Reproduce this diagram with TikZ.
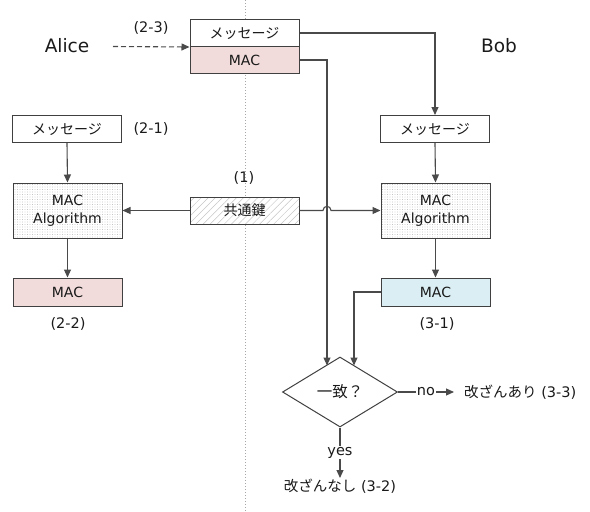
\documentclass[tikz,border=0pt]{standalone}
\usepackage{fontspec}
\setmainfont{DejaVu Sans}
\newfontfamily\jp{Noto Sans CJK JP}
\usetikzlibrary{arrows.meta,shapes.geometric,patterns.meta}
\definecolor{pinkf}{HTML}{F2DCDB}
\definecolor{bluef}{HTML}{DAEEF3}
\definecolor{edgec}{HTML}{404040}
\definecolor{wirec}{HTML}{4A4A4A}
\definecolor{txt}{HTML}{1A1A1A}
\begin{document}
\begin{tikzpicture}[x=1pt,y=-1pt,
  >={Triangle[length=8pt,width=7pt]},
  boxbase/.style={draw=edgec,line width=1pt,minimum width=109pt,minimum height=27pt,inner sep=0pt,
    font=\fontsize{14}{18}\selectfont,text=txt,align=center},
  box/.style={boxbase,fill=white},
  algbox/.style={boxbase,minimum height=55pt,preaction={fill=white},
    pattern={Dots[distance=2.5pt,radius=0.35pt]},pattern color=gray!70},
  keybox/.style={boxbase,preaction={fill=white},
    pattern={Lines[angle=45,distance=5pt,line width=0.5pt]},pattern color=gray!45},
  lbl/.style={font=\fontsize{14.5}{16}\selectfont,text=txt,inner sep=1pt},
  big/.style={font=\fontsize{18.5}{20}\selectfont,text=txt},
  wire/.style={draw=wirec,line width=1.1pt},
  dotline/.style={draw=gray!70,line width=0.8pt,dash pattern=on 1pt off 2pt}]
\useasboundingbox (0,0) rectangle (590,512);
\draw[dotline] (245,0) -- (245,512);

\node[big] (alice) at (67,46) {Alice};
\node[big] (bob) at (499,46) {Bob};

\node[box] (msgT) at (244.5,33) {\jp メッセージ};
\node[box,fill=pinkf] (macT) at (244.5,60) {MAC};
\node[lbl] (l23) at (151,28) {(2-3)};
\coordinate (dstart) at (113,46.5);
\draw[wire,dash pattern=on 5pt off 3pt,->] (dstart) -- (msgT.south west);

\node[box] (msgL) at (67,129) {\jp メッセージ};
\node[lbl] (l21) at (151,129) {(2-1)};
\node[algbox] (algL) at (67.5,210.5) {MAC\\Algorithm};
\node[box,fill=pinkf,minimum height=28pt] (macL) at (67.5,292) {MAC};
\node[lbl] (l22) at (68,324) {(2-2)};

\node[keybox] (key) at (244.5,210.5) {\jp 共通鍵};
\node[lbl] (l1) at (244,178) {(1)};

\node[box] (msgR) at (435,129) {\jp メッセージ};
\node[algbox] (algR) at (435.5,210.5) {MAC\\Algorithm};
\node[box,fill=bluef,minimum height=28pt] (macR) at (435.5,292) {MAC};
\node[lbl] (l31) at (437,324) {(3-1)};

\node[diamond,draw=edgec,line width=1pt,fill=white,minimum width=115pt,minimum height=70pt,aspect=1.64,inner sep=0pt,
  font=\fontsize{15.5}{17}\selectfont,text=txt] (dec) at (340,392) {\jp 一致？};

\node[lbl,anchor=west,inner xsep=10pt] (noT) at (454,392) {{\jp 改ざんあり} (3-3)};
\node[lbl,anchor=north] (yesT) at (340,478) {{\jp 改ざんなし} (3-2)};

% connectors
\draw[wire,->] (msgT.east) -| (msgR.north);
\coordinate (in1) at (327,365.5);
\coordinate (in2) at (354,365.5);
\draw[wire,->] (macT.east) -| (in1);
\draw[wire,->] (macR.west) -| (in2);
\draw[wire,->] (msgL.south) -- (algL.north);
\draw[wire,->] (algL.south) -- (macL.north);
\draw[wire,->] (msgR.south) -- (algR.north);
\draw[wire,->] (algR.south) -- (macR.north);
\draw[wire,->] (key.west) -- (algL.east);
\coordinate (hop) at (327,210.5);
\draw[wire,->] (key.east) -- ([xshift=-4pt]hop) .. controls +(0,-5.5) and +(0,-5.5) .. ([xshift=4pt]hop) -- (algR.west);
\draw[wire,->] (dec.east) -- node[lbl,fill=white]{no} (noT.west);
\draw[wire,->] (dec.south) -- node[lbl,fill=white]{yes} (yesT.north);
\end{tikzpicture}
\end{document}
